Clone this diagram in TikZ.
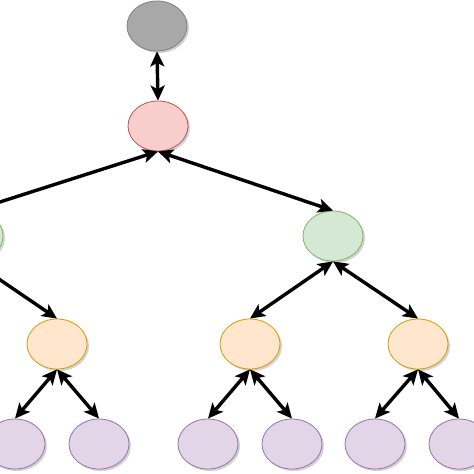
\documentclass[tikz,border=0pt]{standalone}
\usetikzlibrary{arrows.meta,shadows,shapes.geometric}
\definecolor{grayF}{HTML}{A8A8A8}\definecolor{grayD}{HTML}{808080}
\definecolor{pinkF}{HTML}{F8CECC}\definecolor{pinkD}{HTML}{B85450}
\definecolor{greenF}{HTML}{D5E8D4}\definecolor{greenD}{HTML}{82B366}
\definecolor{orangeF}{HTML}{FFE6CC}\definecolor{orangeD}{HTML}{D79B00}
\definecolor{purpleF}{HTML}{E1D5E7}\definecolor{purpleD}{HTML}{9673A6}
\tikzset{
  circ/.style={ellipse, minimum width=60pt, minimum height=50pt, inner sep=0pt, line width=0.8pt,
    drop shadow={shadow xshift=2pt, shadow yshift=-2pt, fill=black!35, opacity=0.5}},
  gnode/.style={circ, fill=grayF, draw=grayD},
  pnode/.style={circ, fill=pinkF, draw=pinkD},
  gnnode/.style={circ, fill=greenF, draw=greenD},
  onode/.style={circ, fill=orangeF, draw=orangeD},
  vnode/.style={circ, fill=purpleF, draw=purpleD},
  link/.style={line width=3.4pt, {Stealth[length=15pt,width=14pt,inset=3.5pt]}-{Stealth[length=15pt,width=14pt,inset=3.5pt]}}
}
\begin{document}
\begin{tikzpicture}[x=1pt,y=-1pt]
\useasboundingbox (0,0) rectangle (474,474);
\clip (0,0) rectangle (474,474);
\fill[white] (0,0) rectangle (474,474);
\node[gnode] (g) at (157,26) {};
\node[pnode] (p) at (158,126) {};
\node[gnnode] (gl) at (-27,236) {};
\node[gnnode] (gr) at (333,236) {};
\node[onode] (o1) at (57,344) {};
\node[onode] (o2) at (250,344) {};
\node[onode] (o3) at (418,344) {};
\node[vnode] (v1) at (15,444) {};
\node[vnode] (v2) at (99,444) {};
\node[vnode] (v3) at (208,444) {};
\node[vnode] (v4) at (292,444) {};
\node[vnode] (v5) at (375,444) {};
\node[vnode] (v6) at (459,444) {};
\draw[link] (g.south) -- (p.north);
\draw[link] (p.south) -- (gl.north);
\draw[link] (p.south) -- (gr.north);
\draw[link] (gl.south) -- (o1.north);
\draw[link] (gr.south) -- (o2.north);
\draw[link] (gr.south) -- (o3.north);
\draw[link] (o1.south) -- (v1.north);
\draw[link] (o1.south) -- (v2.north);
\draw[link] (o2.south) -- (v3.north);
\draw[link] (o2.south) -- (v4.north);
\draw[link] (o3.south) -- (v5.north);
\draw[link] (o3.south) -- (v6.north);
\end{tikzpicture}
\end{document}
